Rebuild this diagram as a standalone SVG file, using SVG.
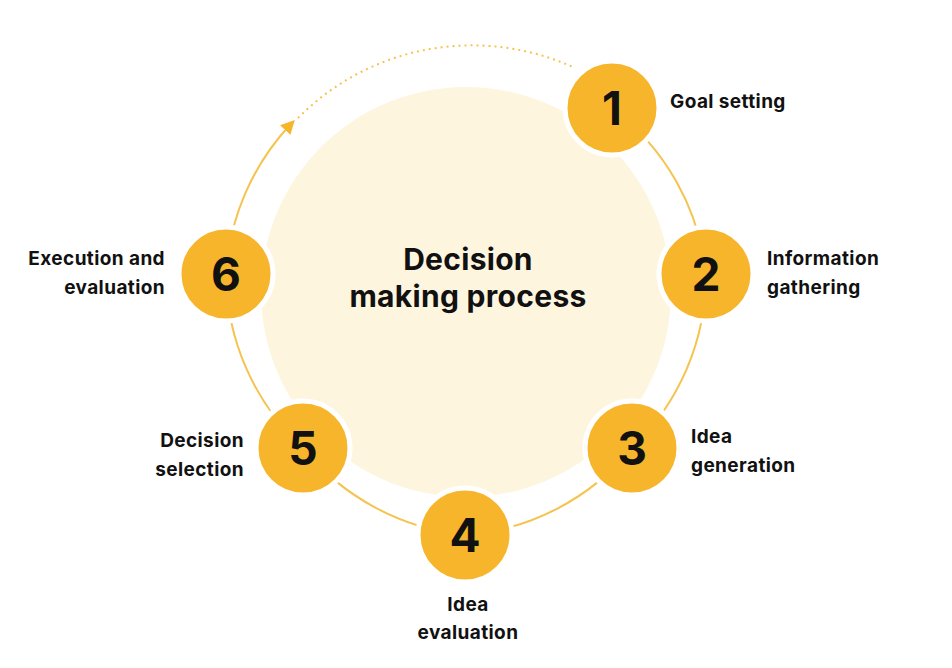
<svg xmlns="http://www.w3.org/2000/svg" width="952" height="668" viewBox="0 0 952 668">
<style>
.n{fill:#F7B52B;stroke:#fff;stroke-width:5}
.num{font-family:Inter,"Liberation Sans",sans-serif;font-weight:700;font-size:46px;fill:#111;text-anchor:middle}
.lb{font-family:Inter,"Liberation Sans",sans-serif;font-weight:700;font-size:19px;letter-spacing:0.4px;fill:#111}
.c{fill:none;stroke:#F5C350;stroke-width:2}
.t{font-family:Inter,"Liberation Sans",sans-serif;font-weight:700;font-size:30px;letter-spacing:0.3px;fill:#111;text-anchor:middle}
</style>
<defs><marker id="ar" viewBox="0 0 10 10" refX="5" refY="5" markerWidth="7" markerHeight="7" orient="auto"><path d="M0,0L10,5L0,10z" fill="#F7B52B"/></marker></defs>
<rect width="952" height="668" fill="#fff"/>
<circle cx="466" cy="292" r="205" fill="#FEF5DF"/>
<g id="connectors">
<path class="c" d="M612,108 A240 240 0 0 1 706,274 A240 240 0 0 1 632,448 A240 240 0 0 1 465,535 A240 240 0 0 1 303,448 A240 240 0 0 1 226,274 A240 240 0 0 1 290,125" marker-end="url(#ar)"/>
<path class="c" d="M298,118 A245 245 0 0 1 575,68" stroke-dasharray="2 4" stroke-width="1.5"/>
</g>
<g id="n1"><circle class="n" cx="612" cy="108" r="47"/><text class="num" x="612" y="125">1</text><text class="lb" x="670" y="108">Goal setting</text></g>
<g id="n2"><circle class="n" cx="706" cy="274" r="47"/><text class="num" x="706" y="291">2</text><text class="lb" x="767" y="265">Information</text><text class="lb" x="767" y="294">gathering</text></g>
<g id="n3"><circle class="n" cx="632" cy="448" r="47"/><text class="num" x="632" y="465">3</text><text class="lb" x="691" y="443">Idea</text><text class="lb" x="691" y="472">generation</text></g>
<g id="n4"><circle class="n" cx="465" cy="535" r="47"/><text class="num" x="465" y="552">4</text><text class="lb" x="468" y="611" text-anchor="middle">Idea</text><text class="lb" x="468" y="639" text-anchor="middle">evaluation</text></g>
<g id="n5"><circle class="n" cx="303" cy="448" r="47"/><text class="num" x="303" y="465">5</text><text class="lb" x="244" y="447" text-anchor="end">Decision</text><text class="lb" x="244" y="476" text-anchor="end">selection</text></g>
<g id="n6"><circle class="n" cx="226" cy="274" r="47"/><text class="num" x="226" y="291">6</text><text class="lb" x="165" y="265" text-anchor="end">Execution and</text><text class="lb" x="165" y="294" text-anchor="end">evaluation</text></g>
<g id="title"><text class="t" x="468" y="270">Decision</text><text class="t" x="468" y="307">making process</text></g>
</svg>
